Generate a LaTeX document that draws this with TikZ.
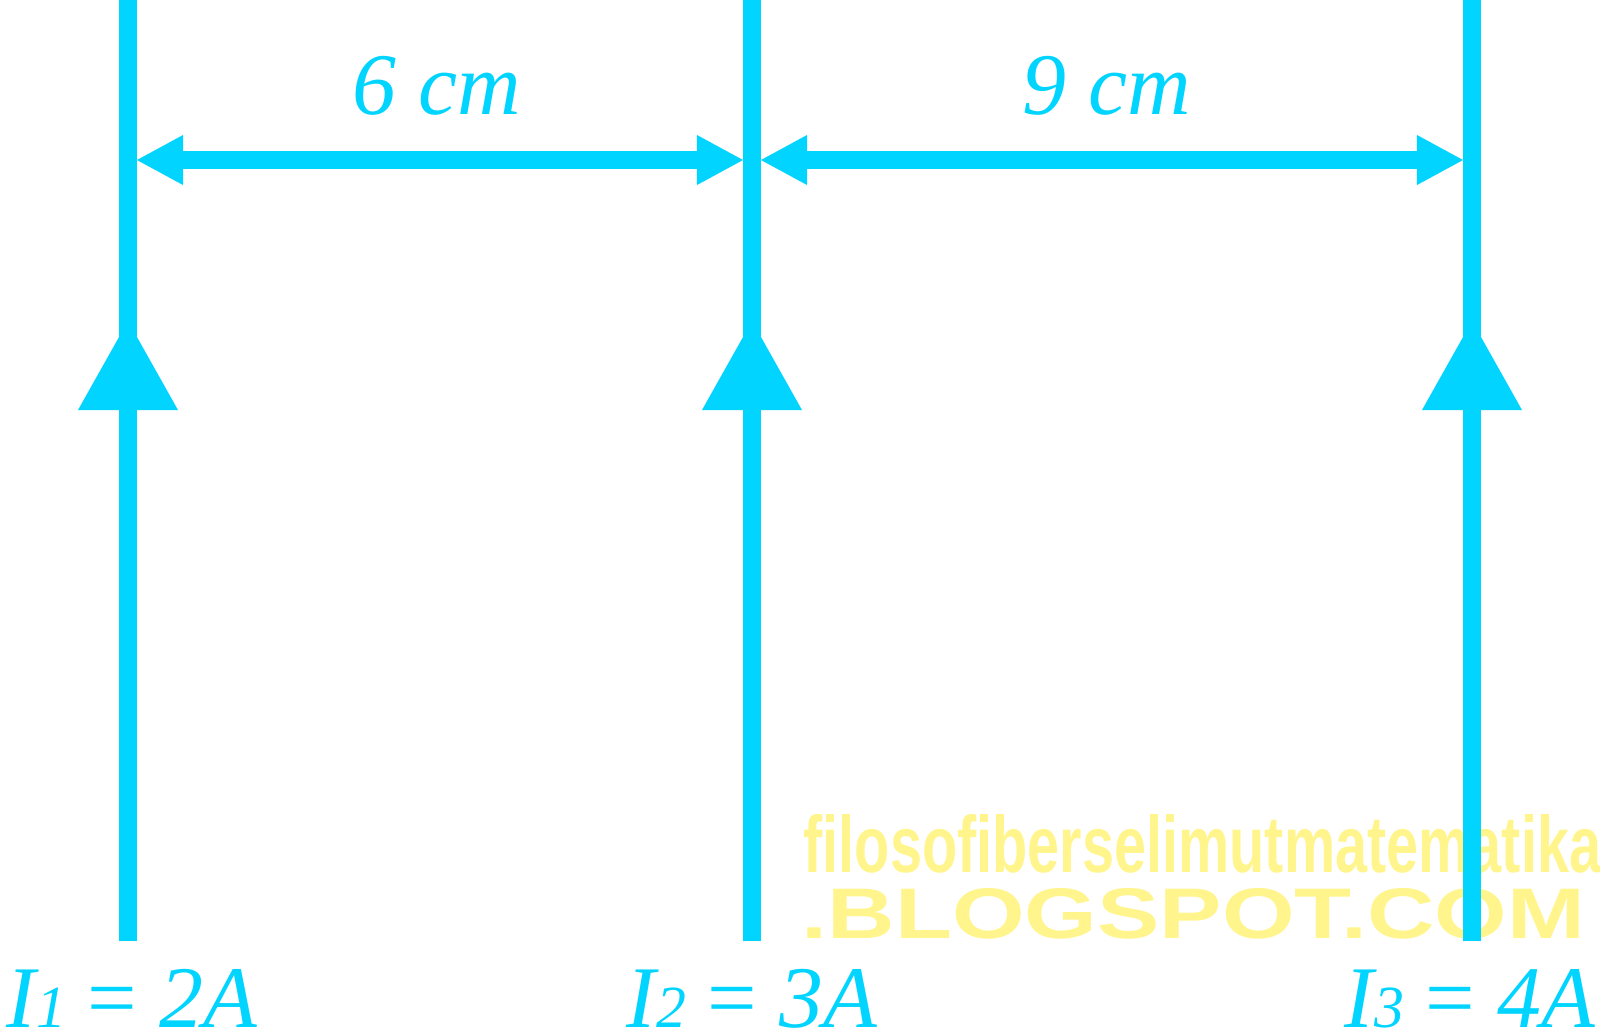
\documentclass[tikz,border=0pt]{standalone}
\usepackage{fontspec}
\setmainfont{Liberation Serif}
\newfontfamily\blogfont{Liberation Sans}
\usetikzlibrary{arrows.meta}
\definecolor{wirecyan}{RGB}{0,212,255}
\definecolor{blogyellow}{RGB}{255,245,140}
\tikzset{
   wire/.style={color=wirecyan, line width=0.18cm},
   current/.style={wire, -{Triangle[length=0.89cm, width=1.0cm, line width=0pt]}},
   dist/.style={wire, {Triangle[length=0.46cm, width=0.5cm, line width=0pt]}-{Triangle[length=0.46cm, width=0.5cm, line width=0pt]}},
   lbl/.style={text=wirecyan, inner sep=0pt, anchor=base, font=\fontsize{25}{30}\selectfont\itshape}
}
\newcommand{\cur}[2]{I{\fontsize{17}{17}\selectfont #1}\ {\upshape =}\ #2A}

\begin{document}
\begin{tikzpicture}[x=0.01cm, y=0.01cm,
                    blog/.style={text=blogyellow, inner sep=0pt, anchor=south west}]
\useasboundingbox (0,0) rectangle (1600,-1035);
% watermark
\node[blog] (blog1) at (803,-874) {\resizebox{7.97cm}{0.58cm}{\blogfont\bfseries filosofiberselimutmatematika}};
\node[blog] (blog2) at (801,-940) {\resizebox{7.83cm}{0.50cm}{\blogfont\bfseries .BLOGSPOT.COM}};
%
\coordinate (t1) at (128,0);    \coordinate (m1) at (128,-321);  \coordinate (b1) at (128,-941);
\coordinate (t2) at (752,0);    \coordinate (m2) at (752,-321);  \coordinate (b2) at (752,-941);
\coordinate (t3) at (1472,0);   \coordinate (m3) at (1472,-321); \coordinate (b3) at (1472,-941);
%
\draw[wire] (b1) -- (t1);
\draw[wire] (b2) -- (t2);
\draw[wire] (b3) -- (t3);
\draw[current] (b1) -- (m1);
\draw[current] (b2) -- (m2);
\draw[current] (b3) -- (m3);
%
\coordinate (d1) at (137,-160);
\coordinate (d2) at (743,-160);
\coordinate (d3) at (761,-160);
\coordinate (d4) at (1463,-160);
\draw[dist] (d1) -- (d2);
\draw[dist] (d3) -- (d4);
%
\node[lbl] (six)  at (437,-114)  {6 cm};
\node[lbl] (nine) at (1107,-114) {9 cm};
%
\node[lbl] (I1) at (132,-1027)  {\cur{1}{2}};
\node[lbl] (I2) at (752,-1027)  {\cur{2}{3}};
\node[lbl] (I3) at (1470,-1027) {\cur{3}{4}};
\end{tikzpicture}
\end{document}
